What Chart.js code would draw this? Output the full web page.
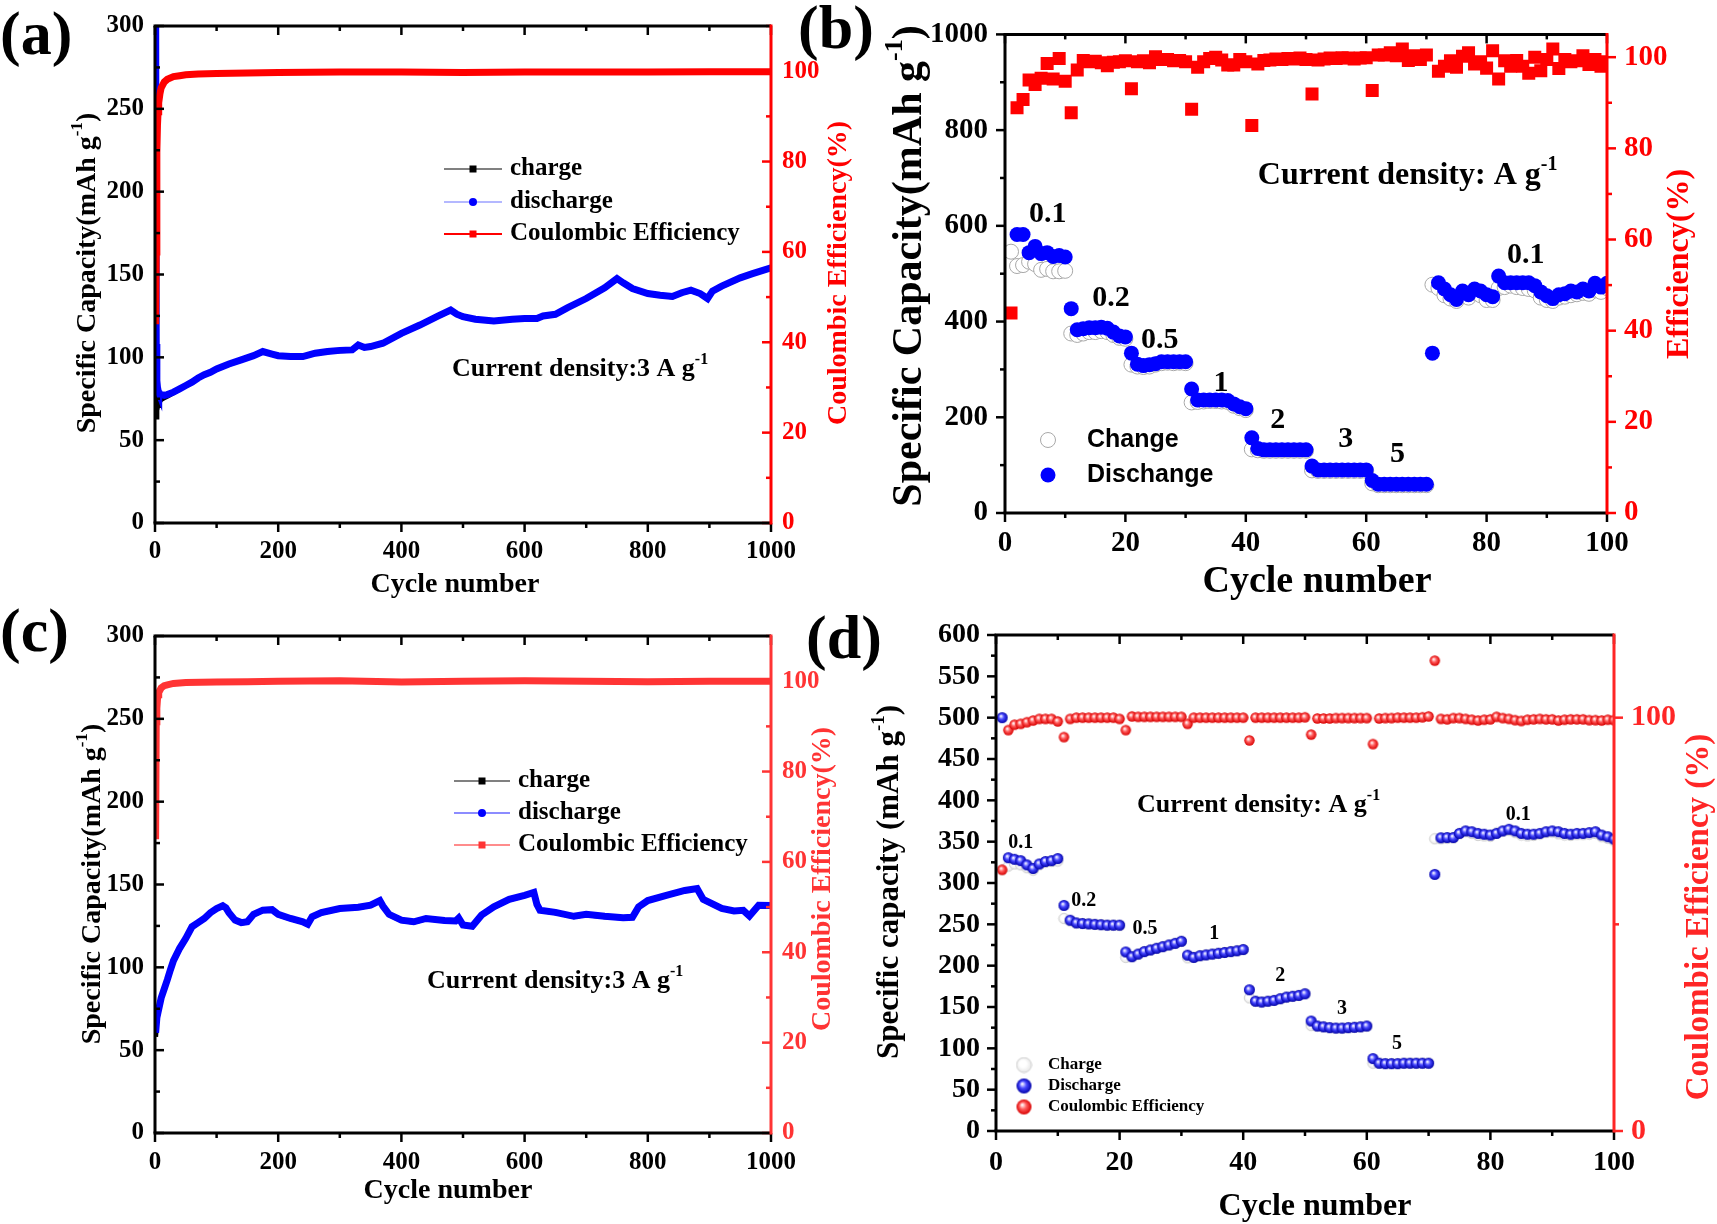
<!DOCTYPE html>
<html>
<head>
<meta charset="utf-8">
<script src="https://cdn.jsdelivr.net/npm/chart.js@4.4.0/dist/chart.umd.min.js"></script>
<style>
  body { margin: 0; background: #fff; width: 1717px; height: 1224px; position: relative; overflow: hidden; }
  canvas { position: absolute; }
  .tag { position: absolute; font: bold 62px "Liberation Serif", "Times New Roman", serif; line-height: 1; color: #000; }
</style>
</head>
<body>
<canvas id="pa" width="860" height="600" style="left:0;top:0"></canvas>
<canvas id="pb" width="857" height="600" style="left:860px;top:0"></canvas>
<canvas id="pc" width="860" height="624" style="left:0;top:600px"></canvas>
<canvas id="pd" width="857" height="624" style="left:860px;top:600px"></canvas>
<div class="tag" style="left:0;top:2px">(a)</div>
<div class="tag" style="left:798px;top:-4px">(b)</div>
<div class="tag" style="left:0;top:599px">(c)</div>
<div class="tag" style="left:806px;top:606px">(d)</div>
<script>
// ---- (a) long cycling, 3 A/g ----
const cyclesA = [1,2,3,4,5,6,8,10, 15,20,30,40,50,60,70,80,90,100, 120,140,160,175,190,200, 220,240,250,260,280,300,
  320,330,340,350,370,400, 430,460,480,490,500,520, 550,580,600,620,630,650, 670,700,730,750,760,775,
  800,820,840,855,870,885, 897,905,920,950,970,1000];
const dischargeA = [330,108,86,82,80,79,78,77.5, 77,77.5,79,81,83,85,87.5,89.5,91,93, 96,98.5,101,103.5,102,101,
  100.5,100.5,101.5,102.5,103.5,104.2, 104.5,107.5,106,106.5,108.5,114.5, 119.5,125,128.5,126,124.5,123,
  122,123,123.5,123.5,125,126, 130,135.5,142,147.5,145,141.5, 138.5,137.5,136.7,139,140.5,138.5,
  135.5,140,143,148,150.5,154];
const chargeA = [145,64,68,70,71,72,73.5,74.5, 75.5,76.5,78.5,80.8,82.8,84.8,87.3,89.3,90.8,92.8, 95.8,98.3,100.8,103.3,101.8,100.8,
  100.3,100.3,101.3,102.3,103.3,104, 104.3,107.3,105.8,106.3,108.3,114.3, 119.3,124.8,128.3,125.8,124.3,122.8,
  121.8,122.8,123.3,123.3,124.8,125.8, 129.8,135.3,141.8,147.3,144.8,141.3, 138.3,137.3,136.5,138.8,140.3,138.3,
  135.3,139.8,142.8,147.8,150.3,153.8];
const ceCyclesA = [1,2,3,4,5,6,8,10,15,20,30,40,50,70,100,150,200,300,400,500,600,700,800,900,1000];
const ceA = [44,60,82,88,91,93,95,96.3,97.6,98.2,98.8,99.0,99.2,99.4,99.5,99.6,99.7,99.8,99.8,99.7,99.8,99.8,99.8,99.9,99.9];

// ---- (b) rate test ----
const cyclesB = Array.from({length: 100}, (_, i) => i + 1);
const dischargeB = [1240,582,582,544,557,542,544,536,538,535, 427,383,385,387,387,388,386,378,370,368,
  334,311,308,310,312,316,316,316,316,316, 259,236,236,236,236,236,235,228,222,218,
  157,135,132,132,132,132,132,132,132,132, 98,90,90,90,90,90,90,90,90,90,
  68,60,60,60,60,60,60,60,60,60, 334,481,468,456,446,464,456,468,464,456,
  452,495,481,481,481,481,481,475,462,454, 448,456,458,464,462,468,464,480,472,480];
const chargeB = [546,516,518,525,520,508,510,505,505,506, 375,372,375,378,378,380,378,372,366,364,
  310,306,305,306,310,313,314,313,314,313, 231,232,233,234,234,233,232,224,219,215,
  133,131,130,130,130,130,130,130,130,130, 89,88,88,88,88,88,88,88,88,88,
  62,58,58,58,58,58,58,58,58,58, 477,470,455,448,443,455,450,460,455,445,
  445,470,472,475,472,470,468,465,450,445, 443,450,452,455,457,460,458,465,462,470];
const ceB = [43.9,88.9,90.7,95.0,94.0,95.4,98.6,95.2,99.7,94.7, 87.8,97.2,99.3,99.0,99.1,98.8,98.1,98.9,99.0,99.2,
  93.1,99.0,99.2,98.8,100.1,99.5,99.5,99.2,99.3,99.0, 88.6,97.8,99.0,99.7,100.0,99.4,98.3,98.3,99.5,99.0,
  85.0,98.5,99.3,99.4,99.6,99.5,99.7,99.6,99.8,99.5, 91.9,99.4,99.6,99.8,99.7,99.9,99.8,99.6,99.8,99.9,
  92.7,100.5,100.5,101.0,100.3,101.8,99.3,100.3,99.5,100.5, 143,96.9,98.0,99.2,97.8,100.2,101.0,98.5,99.0,97.6,
  101.4,95.2,99.2,98.0,99.3,98.0,96.5,100.0,97.0,99.5, 101.8,97.5,99.5,99.0,99.2,100.3,98.4,99.5,98.0,99.0];
const rateTextsB = ['0.1','0.2','0.5','1','2','3','5','0.1'];

// ---- (c) long cycling, 3 A/g ----
const cyclesC = [1,3,5,10,15,20,25,30,40,50, 60,70,80,90,100,110,115,120,130,140, 150,160,175,190,200,220,240,248,255,270,
  300,330,350,365,370,380,400,420,440,470, 488,493,500,515,530,550,575,600,615,620,
  625,650,680,700,730,760,775,785,800,830, 860,880,890,920,940,955,965,980,1000];
const dischargeC = [60.5,69.5,73,81.5,87,92.5,98.5,104,111.5,117.5, 124.5,127,129.5,133,135.5,137.2,136,133,128.5,127,
  127.5,132,134.5,134.8,132,129.5,127.5,126,130.5,133, 135.5,136.3,137.5,140.3,137,132,128.5,127.5,129.5,128.3,
  128,129.8,125.5,124.8,131.5,136.5,141,143.5,145.2,138, 134.5,133.2,130.8,132,130.8,130,130.2,136.5,140.3,143.5,
  146.4,147.6,141,135.6,134,134.4,131,137.5,137.3];
const chargeC = [58,68.5,72.3,81,86.6,92.1,98.1,103.7,111.2,117.2, 124.2,126.8,129.3,132.8,135.3,137,135.8,132.8,128.3,126.8,
  127.3,131.8,134.3,134.6,131.8,129.3,127.3,125.8,130.3,132.8, 135.3,136.1,137.3,140.1,136.8,131.8,128.3,127.3,129.3,128.1,
  127.8,129.6,125.3,124.6,131.3,136.3,140.8,143.3,145,137.8, 134.3,133,130.6,131.8,130.6,129.8,130,136.3,140.1,143.3,
  146.2,147.4,140.8,135.4,133.8,134.2,130.8,137.3,137.1];
const ceCyclesC = [1,2,3,4,5,6,8,10,15,20,30,50,100,150,200,300,400,500,600,700,800,900,1000];
const ceC = [65,91,94,96,97,97.5,98,98.5,99,99.2,99.5,99.7,99.8,99.9,100,100.1,99.8,100,100.1,100,99.9,100,100];

// ---- (d) rate test ----
const cyclesD = Array.from({length: 100}, (_, i) => i + 1);
const dischargeD = [500,330.6,328.7,327,322,317.6,323,326,327,329.6, 272.9,255,251.7,251,250.5,250,249.5,249,249,249,
  216.6,210.8,214,217,219,221,223,225,227,229.5, 212.7,210,212,213,214,215,216,217,218,219.5,
  170.8,157,156,157,158,160,162,163,164,166, 133,127,126,125,124.5,124.5,125,125.5,126,127,
  87.6,82,81.5,81.5,81.5,82,82,82,82,82, 310.4,354.7,355,355,360,363,362,360,359,358,
  360,363,365,363,360,359,359,360,362,363, 362,360,359,360,360,361,362,358,356,353];
const chargeD = [316,320.5,323,322,318.5,315.5,322,325,326,326.5, 257,254,251.5,251,250.5,250,249.5,249,249,248.5,
  210,211,214,217,219,221,223,225,227,229.5, 209.5,210,212,213,214,215,216,217,218,219.5,
  161,157,156,157,158,160,162,163,164,166, 127.5,127,126,125,124.5,124.5,125,125.5,126,127,
  82,82,81.5,81.5,81.5,82,82,82,82,82, 353.5,353.5,354,354.5,359.5,362,360,357.5,357,356.5,
  360.5,362.5,363.5,361,358,357,357.5,359,361,361.5, 359.5,358,357.5,358.5,358.5,359,360,356,354,351];
const ceD = [63.2,97.0,98.3,98.5,98.9,99.3,99.7,99.7,99.7,99.1, 95.3,99.7,100,100,100,100,100,100,100,99.7,
  97.0,100.3,100.2,100.2,100.2,100.2,100.2,100.2,100.2,100.2, 98.5,100,100,100,100,100,100,100,100,100,
  94.5,100,100,100,100,100,100,100,100,100.1, 95.9,99.8,99.8,99.8,99.9,99.9,99.9,99.9,99.9,99.9,
  93.6,99.8,99.9,99.9,100,100,100,100,100.1,100.3, 113.8,99.7,99.6,99.9,99.9,99.7,99.5,99.3,99.5,99.6,
  100.2,99.9,99.7,99.4,99.2,99.5,99.6,99.7,99.6,99.6, 99.3,99.5,99.6,99.6,99.6,99.4,99.4,99.3,99.5,99.4];
const rateTextsD = ['0.1','0.2','0.5','1','2','3','5','0.1'];

// ---------------- drawing helpers ----------------
const SERIF = '"Liberation Serif", "Times New Roman", serif';
const SANS = '"Liberation Sans", Arial, sans-serif';
const RED = '#ff0000';
const RED_C = '#ff3434';
const RED_D = '#ff2626';
const BLUE = '#0000ff';

const pts = (xs, ys) => xs.map((x, i) => ({x: x, y: ys[i]}));

// text with superscript parts: a part that starts with '^' is raised
function drawRich(ctx, parts, x, y, size, color, opt) {
  opt = opt || {};
  const fam = opt.family || SERIF;
  const segs = parts.map(p => {
    const sup = p[0] === '^';
    const t = sup ? p.slice(1) : p;
    const f = 'bold ' + (sup ? Math.round(size * 0.62) : size) + 'px ' + fam;
    ctx.font = f;
    return {t, f, sup, w: ctx.measureText(t).width};
  });
  const total = segs.reduce((s, g) => s + g.w, 0);
  ctx.save();
  ctx.translate(x, y);
  if (opt.rot) ctx.rotate(opt.rot);
  ctx.fillStyle = color;
  ctx.textBaseline = 'middle';
  ctx.textAlign = 'left';
  let cx = opt.align === 'left' ? 0 : -total / 2;
  segs.forEach(g => {
    ctx.font = g.f;
    ctx.fillText(g.t, cx, g.sup ? -size * 0.36 : 0);
    cx += g.w;
  });
  ctx.restore();
}

function sphere(r, c0, c1, c2, edge) {
  const cv = document.createElement('canvas');
  const s = Math.ceil(2 * r + 2);
  cv.width = s; cv.height = s;
  const g = cv.getContext('2d');
  const m = s / 2;
  const grad = g.createRadialGradient(m - r * 0.25, m - r * 0.3, r * 0.05, m, m, r);
  grad.addColorStop(0, c0);
  grad.addColorStop(0.45, c1);
  grad.addColorStop(1, c2);
  g.fillStyle = grad;
  g.beginPath(); g.arc(m, m, r, 0, Math.PI * 2); g.fill();
  if (edge) { g.strokeStyle = edge; g.lineWidth = 0.8; g.stroke(); }
  return cv;
}
const blueBall = r => sphere(r, '#ffffff', '#4848ff', '#0000a8');
const redBall = r => sphere(r, '#ffffff', '#ff5a5a', '#d80000');
const whiteBall = r => sphere(r, '#ffffff', '#ffffff', '#e6e6e6', '#c8c8c8');

// frame, inner/outer ticks, titles, notes and legends
const decor = {
  id: 'decor',
  afterDatasetsDraw(chart, args, o) {
    const {ctx, chartArea: a, scales} = chart;
    ctx.save();
    ctx.lineCap = 'butt';
    (o.ticks || []).forEach(t => {
      const sc = scales[t.scale];
      ctx.strokeStyle = t.color || '#000';
      ctx.lineWidth = 2.5;
      for (let v = sc.min; v <= sc.max + 1e-6; v += t.minor) {
        const major = Math.abs(v / t.major - Math.round(v / t.major)) < 1e-6;
        const len = major ? (o.majorLen || 9) : (o.minorLen || 5);
        const p = sc.getPixelForValue(v);
        ctx.beginPath();
        if (t.edge === 'bottom') { ctx.moveTo(p, a.bottom); ctx.lineTo(p, a.bottom + t.dir * len); }
        else if (t.edge === 'top') { ctx.moveTo(p, a.top); ctx.lineTo(p, a.top - t.dir * len); }
        else if (t.edge === 'left') { ctx.moveTo(a.left, p); ctx.lineTo(a.left - t.dir * len, p); }
        else { ctx.moveTo(a.right, p); ctx.lineTo(a.right + t.dir * len, p); }
        ctx.stroke();
      }
    });
    const lw = o.frameWidth || 3;
    ctx.lineWidth = lw;
    const seg = (c, x1, y1, x2, y2) => {
      ctx.strokeStyle = c; ctx.beginPath(); ctx.moveTo(x1, y1); ctx.lineTo(x2, y2); ctx.stroke();
    };
    seg('#000', a.left - lw / 2, a.top, a.right, a.top);
    seg('#000', a.left - lw / 2, a.bottom, a.right, a.bottom);
    seg('#000', a.left, a.top, a.left, a.bottom);
    seg(o.rightColor || '#000', a.right, a.top - lw / 2, a.right, a.bottom + lw / 2);
    ctx.restore();
  },
  afterDraw(chart, args, o) {
    const {ctx, scales} = chart;
    (o.titles || []).forEach(t => drawRich(ctx, t.parts, t.x, t.y, t.size, t.color || '#000', {rot: t.rot}));
    (o.notes || []).forEach(n => {
      const x = scales.x.getPixelForValue(n.x);
      const y = scales.y.getPixelForValue(n.y);
      drawRich(ctx, n.parts, x, y, n.size, '#000', {align: n.align});
    });
    const lg = o.legend;
    if (!lg) return;
    lg.ys.forEach((y, i) => {
      const ds = chart.data.datasets[i];
      ctx.save();
      if (lg.kind === 'line') {
        ctx.strokeStyle = ds.legendLine; ctx.lineWidth = 2;
        ctx.beginPath(); ctx.moveTo(lg.x1, y); ctx.lineTo(lg.x2, y); ctx.stroke();
        const mx = (lg.x1 + lg.x2) / 2;
        ctx.fillStyle = ds.legendMark;
        if (ds.legendShape === 'circle') { ctx.beginPath(); ctx.arc(mx, y, 4, 0, Math.PI * 2); ctx.fill(); }
        else ctx.fillRect(mx - 3.5, y - 3.5, 7, 7);
      } else if (ds.legendIcon) {
        const ic = ds.legendIcon;
        ctx.drawImage(ic, lg.x - ic.width / 2, y - ic.height / 2);
      } else {
        ctx.beginPath(); ctx.arc(lg.x, y, lg.r, 0, Math.PI * 2);
        ctx.fillStyle = ds.pointBackgroundColor; ctx.fill();
        if (ds.pointBorderWidth) { ctx.lineWidth = ds.pointBorderWidth; ctx.strokeStyle = ds.pointBorderColor; ctx.stroke(); }
      }
      ctx.restore();
      drawRich(ctx, [ds.label], lg.textX, y, lg.size, '#000', {align: 'left', family: lg.family});
    });
  }
};
Chart.register(decor);

function axis(o) {
  return {
    type: 'linear', position: o.pos, min: o.min, max: o.max,
    grid: {display: false, drawTicks: false},
    border: {display: false},
    ticks: {
      stepSize: o.step, autoSkip: false, maxRotation: 0, includeBounds: false,
      font: {family: SERIF, weight: 'bold', size: o.size},
      color: o.color || '#000', padding: o.pad,
      callback: o.cb || (v => String(v))
    },
    afterFit: s => { if (o.pos === 'bottom') s.height = o.fit; else s.width = o.fit; }
  };
}

function base(top, scales, decorOpts) {
  return {
    responsive: false, animation: false, events: [],
    layout: {padding: {top: top, left: 0, right: 0, bottom: 0}},
    scales: scales,
    plugins: {legend: {display: false}, tooltip: {enabled: false}, decor: decorOpts}
  };
}
const UP = -Math.PI / 2;
const capTitle = ['Specific Capacity(mAh g', '^-1', ')'];

// ---------------- (a) ----------------
new Chart(document.getElementById('pa'), {
  type: 'line',
  data: {datasets: [
    {label: 'charge', data: pts(cyclesA, chargeA), borderColor: '#000', borderWidth: 5, pointRadius: 0, tension: 0,
     yAxisID: 'y', order: 3, legendLine: '#808080', legendMark: '#000', legendShape: 'rect'},
    {label: 'discharge', data: pts(cyclesA, dischargeA), borderColor: BLUE, borderWidth: 7, pointRadius: 0, tension: 0,
     yAxisID: 'y', order: 2, legendLine: '#b4b8ff', legendMark: BLUE, legendShape: 'circle'},
    {label: 'Coulombic Efficiency', data: pts(ceCyclesA, ceA), borderColor: RED, borderWidth: 7, pointRadius: 0, tension: 0,
     yAxisID: 'y2', order: 1, legendLine: RED, legendMark: RED, legendShape: 'rect'}
  ]},
  options: base(26, {
    x: axis({pos: 'bottom', min: 0, max: 1000, step: 200, size: 25, pad: 14, fit: 77}),
    y: axis({pos: 'left', min: 0, max: 300, step: 50, size: 25, pad: 11, fit: 155}),
    y2: axis({pos: 'right', min: 0, max: 110, step: 20, size: 25, pad: 11, fit: 89, color: RED})
  }, {
    rightColor: RED,
    ticks: [
      {scale: 'x', edge: 'bottom', dir: 1, major: 200, minor: 100},
      {scale: 'x', edge: 'top', dir: -1, major: 200, minor: 100},
      {scale: 'y', edge: 'left', dir: -1, major: 50, minor: 25},
      {scale: 'y2', edge: 'right', dir: -1, major: 20, minor: 10, color: RED}
    ],
    titles: [
      {parts: ['Cycle number'], x: 455, y: 585, size: 28},
      {parts: capTitle, x: 88, y: 273, size: 28, rot: UP},
      {parts: ['Coulombic Efficiency(%)'], x: 839, y: 273, size: 28, rot: UP, color: RED}
    ],
    notes: [{parts: ['Current density:3 A g', '^-1'], x: 482, y: 93, size: 26, align: 'left'}],
    legend: {kind: 'line', x1: 444, x2: 502, textX: 510, ys: [169, 202, 234], size: 25}
  })
});

// ---------------- (b) ----------------
const bNotes = [{parts: ['Current density: A g', '^-1'], x: 42, y: 704, size: 32, align: 'left'}];
const bLabelAt = [[7.1, 624], [17.6, 448], [25.7, 361], [35.9, 271], [45.3, 193], [56.6, 154], [65.2, 123], [86.5, 538]];
rateTextsB.forEach((t, i) => bNotes.push({parts: [t], x: bLabelAt[i][0], y: bLabelAt[i][1], size: 30}));

new Chart(document.getElementById('pb'), {
  type: 'scatter',
  data: {datasets: [
    {label: 'Change', data: pts(cyclesB, chargeB), pointStyle: 'circle', pointRadius: 7.5,
     pointBackgroundColor: '#ffffff', pointBorderColor: '#a8a8a8', pointBorderWidth: 1, yAxisID: 'y', order: 3},
    {label: 'Dischange', data: pts(cyclesB, dischargeB), pointStyle: 'circle', pointRadius: 7.5,
     pointBackgroundColor: BLUE, pointBorderColor: BLUE, pointBorderWidth: 0, yAxisID: 'y', order: 2},
    {label: 'Efficiency', data: pts(cyclesB, ceB), pointStyle: 'rect', pointRadius: 9.2,
     pointBackgroundColor: RED, pointBorderColor: RED, pointBorderWidth: 0, yAxisID: 'y2', order: 1}
  ]},
  options: base(26, {
    x: axis({pos: 'bottom', min: 0, max: 100, step: 20, size: 29, pad: 13, fit: 87}),
    y: axis({pos: 'left', min: 0, max: 1000, step: 200, size: 29, pad: 17, fit: 145}),
    y2: axis({pos: 'right', min: 0, max: 105, step: 20, size: 29, pad: 17, fit: 110, color: RED})
  }, {
    rightColor: RED,
    ticks: [
      {scale: 'x', edge: 'bottom', dir: 1, major: 20, minor: 10},
      {scale: 'x', edge: 'top', dir: -1, major: 20, minor: 10},
      {scale: 'y', edge: 'left', dir: 1, major: 200, minor: 100},
      {scale: 'y2', edge: 'right', dir: 1, major: 20, minor: 10, color: RED}
    ],
    titles: [
      {parts: ['Cycle number'], x: 457, y: 582, size: 38},
      {parts: capTitle, x: 50, y: 266, size: 42, rot: UP},
      {parts: ['Efficiency(%)'], x: 820, y: 264, size: 32, rot: UP, color: RED}
    ],
    notes: bNotes,
    legend: {kind: 'dot', x: 188, r: 7.5, textX: 227, ys: [440, 475], size: 25, family: SANS}
  })
});

// ---------------- (c) ----------------
new Chart(document.getElementById('pc'), {
  type: 'line',
  data: {datasets: [
    {label: 'charge', data: pts(cyclesC, chargeC), borderColor: '#000', borderWidth: 5, pointRadius: 0, tension: 0,
     yAxisID: 'y', order: 3, legendLine: '#808080', legendMark: '#000', legendShape: 'rect'},
    {label: 'discharge', data: pts(cyclesC, dischargeC), borderColor: BLUE, borderWidth: 7, pointRadius: 0, tension: 0,
     yAxisID: 'y', order: 2, legendLine: '#8c8cff', legendMark: BLUE, legendShape: 'circle'},
    {label: 'Coulombic Efficiency', data: pts(ceCyclesC, ceC), borderColor: RED_C, borderWidth: 7, pointRadius: 0, tension: 0,
     yAxisID: 'y2', order: 1, legendLine: '#ff8c8c', legendMark: RED_C, legendShape: 'rect'}
  ]},
  options: base(36, {
    x: axis({pos: 'bottom', min: 0, max: 1000, step: 200, size: 25, pad: 15, fit: 91}),
    y: axis({pos: 'left', min: 0, max: 300, step: 50, size: 25, pad: 11, fit: 155}),
    y2: axis({pos: 'right', min: 0, max: 110, step: 20, size: 25, pad: 11, fit: 89, color: RED_C})
  }, {
    rightColor: RED_C,
    ticks: [
      {scale: 'x', edge: 'bottom', dir: 1, major: 200, minor: 100},
      {scale: 'x', edge: 'top', dir: -1, major: 200, minor: 100},
      {scale: 'y', edge: 'left', dir: -1, major: 50, minor: 25},
      {scale: 'y2', edge: 'right', dir: -1, major: 20, minor: 10, color: RED_C}
    ],
    titles: [
      {parts: ['Cycle number'], x: 448, y: 591, size: 28},
      {parts: capTitle, x: 93, y: 284, size: 28, rot: UP},
      {parts: ['Coulombic Efficiency(%)'], x: 823, y: 279, size: 28, rot: UP, color: RED_C}
    ],
    notes: [{parts: ['Current density:3 A g', '^-1'], x: 441.6, y: 91.7, size: 26, align: 'left'}],
    legend: {kind: 'line', x1: 454, x2: 510, textX: 518, ys: [181, 213, 245], size: 25}
  })
});

// ---------------- (d) ----------------
const dNotes = [{parts: ['Current density: A g', '^-1'], x: 22.8, y: 394, size: 26, align: 'left'}];
const dLabelAt = [[4.0, 348], [14.2, 279], [24.1, 245], [35.3, 238], [46.0, 187.5], [56.0, 147.6], [64.9, 105], [84.5, 383]];
rateTextsD.forEach((t, i) => dNotes.push({parts: [t], x: dLabelAt[i][0], y: dLabelAt[i][1], size: 20}));

new Chart(document.getElementById('pd'), {
  type: 'scatter',
  data: {datasets: [
    {label: 'Charge', data: pts(cyclesD, chargeD), pointStyle: whiteBall(5.2), pointRadius: 5, yAxisID: 'y', order: 3,
     legendIcon: whiteBall(7.5)},
    {label: 'Discharge', data: pts(cyclesD, dischargeD), pointStyle: blueBall(5.5), pointRadius: 5, yAxisID: 'y', order: 2,
     legendIcon: blueBall(7.5)},
    {label: 'Coulombic Efficiency', data: pts(cyclesD, ceD), pointStyle: redBall(5.2), pointRadius: 5, yAxisID: 'y2', order: 1,
     legendIcon: redBall(7.5)}
  ]},
  options: base(35, {
    x: axis({pos: 'bottom', min: 0, max: 100, step: 20, size: 28, pad: 15, fit: 93}),
    y: axis({pos: 'left', min: 0, max: 600, step: 50, size: 28, pad: 16, fit: 136}),
    y2: axis({pos: 'right', min: 0, max: 120, step: 50, size: 30, pad: 17, fit: 103, color: RED_D,
              cb: v => (v % 100 === 0 ? String(v) : '')})
  }, {
    rightColor: RED_D,
    ticks: [
      {scale: 'x', edge: 'bottom', dir: 1, major: 20, minor: 10},
      {scale: 'x', edge: 'top', dir: -1, major: 20, minor: 10},
      {scale: 'y', edge: 'left', dir: 1, major: 50, minor: 25},
      {scale: 'y2', edge: 'right', dir: 1, major: 100, minor: 50, color: RED_D}
    ],
    titles: [
      {parts: ['Cycle number'], x: 455, y: 607, size: 32},
      {parts: ['Specific capacity (mAh g', '^-1', ')'], x: 30, y: 282, size: 31, rot: UP},
      {parts: ['Coulombic Efficiency (%)'], x: 839, y: 317, size: 33, rot: UP, color: RED_D}
    ],
    notes: dNotes,
    legend: {kind: 'dot', x: 164, textX: 188, ys: [465, 486, 507], size: 17}
  })
});
</script>
</body>
</html>
